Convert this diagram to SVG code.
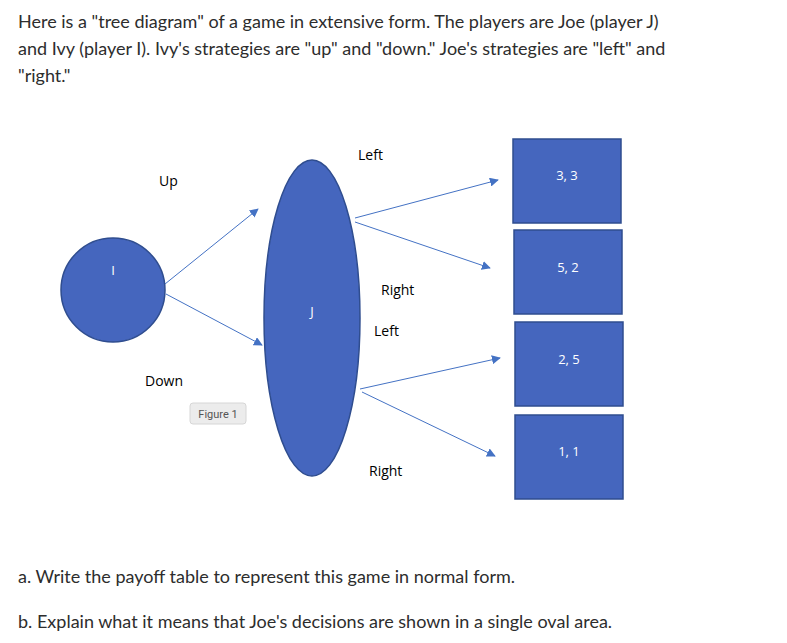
<svg xmlns="http://www.w3.org/2000/svg" width="787" height="643" viewBox="0 0 787 643">
<style>
.t{font-family:Lato,"Liberation Sans",sans-serif;font-size:18px;fill:#2d2d2d}
.l{font-family:"Open Sans","Liberation Sans",sans-serif;font-size:14px;fill:#000}
.w{font-family:"Open Sans","Liberation Sans",sans-serif;font-size:13px;fill:#fff;text-anchor:middle}
.n{fill:#4566be;stroke:#2f4d8f;stroke-width:1.5}
.c{stroke:#4472c4;stroke-width:1;fill:none;marker-end:url(#a)}
</style>
<defs><marker id="a" viewBox="0 0 10 10" refX="9" refY="5" markerWidth="9" markerHeight="9" orient="auto" markerUnits="userSpaceOnUse"><path d="M0,0L10,5L0,10z" fill="#4472c4"/></marker></defs>
<rect width="787" height="643" fill="#fff"/>
<text class="t" x="18" y="28">Here is a "tree diagram" of a game in extensive form. The players are Joe (player J)</text>
<text class="t" x="18" y="55">and Ivy (player I). Ivy's strategies are "up" and "down." Joe's strategies are "left" and</text>
<text class="t" x="18" y="82">"right."</text>
<g id="nodeI"><circle class="n" cx="113" cy="290" r="52"/><text class="w" x="113" y="275">I</text></g>
<g id="nodeJ"><ellipse class="n" cx="312" cy="318" rx="48" ry="158"/><text class="w" x="312" y="316">J</text></g>
<g id="p1"><rect class="n" x="513" y="139" width="108" height="84"/><text class="w" x="567" y="180">3, 3</text></g>
<g id="p2"><rect class="n" x="514" y="230" width="108" height="84"/><text class="w" x="568" y="272">5, 2</text></g>
<g id="p3"><rect class="n" x="515" y="322" width="108" height="84"/><text class="w" x="569" y="364">2, 5</text></g>
<g id="p4"><rect class="n" x="515" y="415" width="108" height="84"/><text class="w" x="569" y="456">1, 1</text></g>
<g id="connectors">
<line class="c" x1="165" y1="284" x2="258" y2="209"/>
<line class="c" x1="166" y1="294" x2="262" y2="345"/>
<line class="c" x1="355" y1="218" x2="498" y2="180"/>
<line class="c" x1="355" y1="222" x2="490" y2="268"/>
<line class="c" x1="360" y1="389" x2="500" y2="358"/>
<line class="c" x1="362" y1="392" x2="495" y2="456"/>
</g>
<text class="l" x="159" y="186">Up</text>
<text class="l" x="145" y="386">Down</text>
<text class="l" x="358" y="160">Left</text>
<text class="l" x="381" y="295">Right</text>
<text class="l" x="374" y="336">Left</text>
<text class="l" x="369" y="476">Right</text>
<g id="fig"><rect x="190" y="403" width="56" height="21" rx="3" fill="#ececec" stroke="#d6d6d6"/><text x="218" y="418" font-family="Roboto,'Liberation Sans',sans-serif" font-size="11" fill="#555" text-anchor="middle">Figure 1</text></g>
<text class="t" x="18" y="583">a. Write the payoff table to represent this game in normal form.</text>
<text class="t" x="18" y="628">b. Explain what it means that Joe's decisions are shown in a single oval area.</text>
</svg>
